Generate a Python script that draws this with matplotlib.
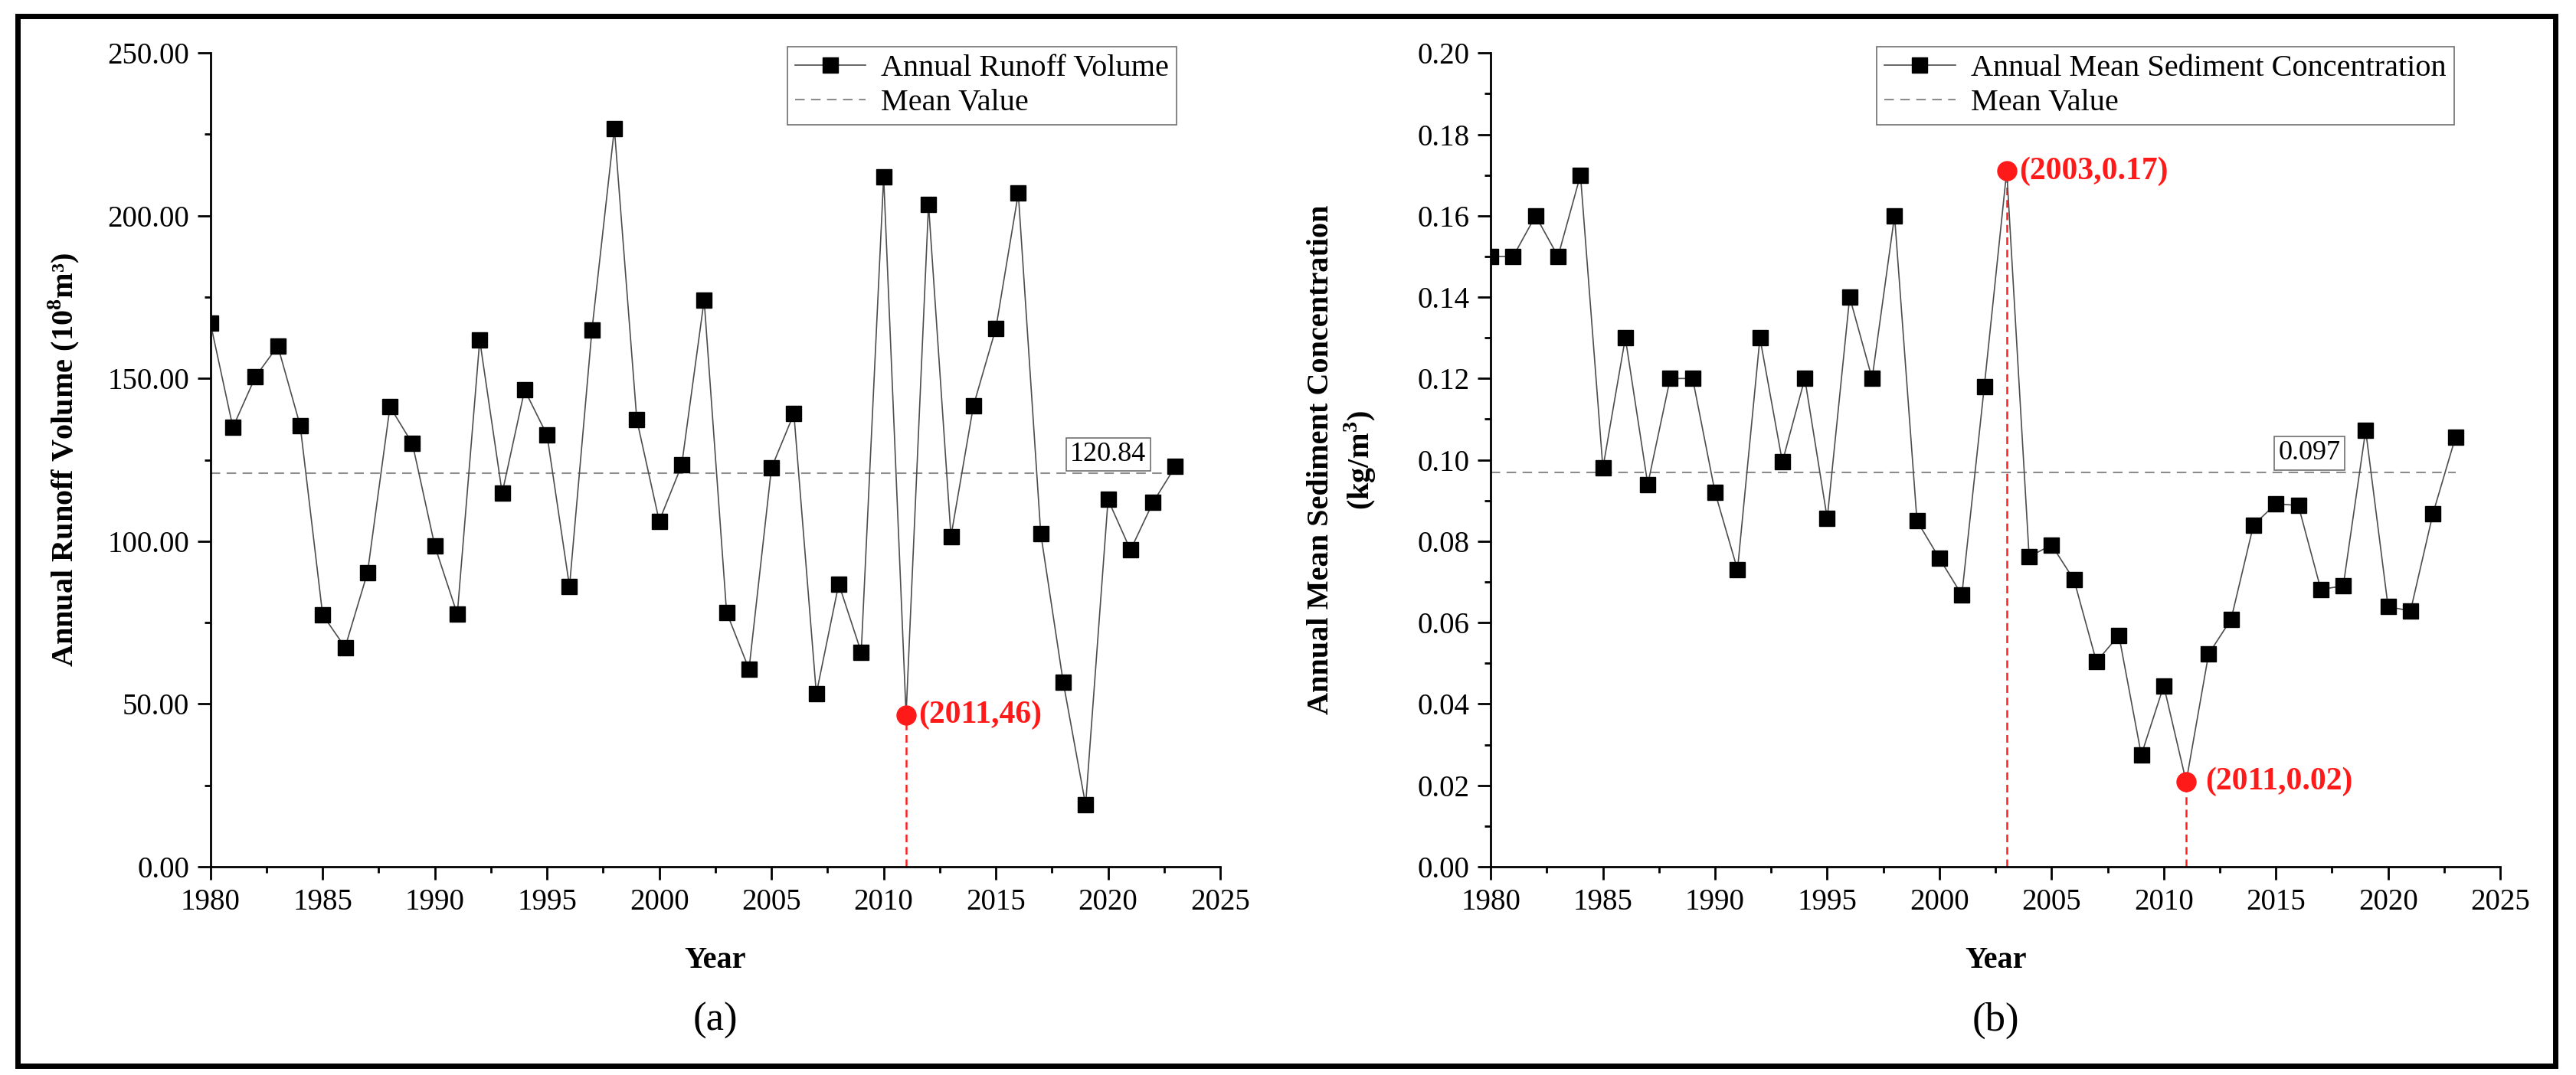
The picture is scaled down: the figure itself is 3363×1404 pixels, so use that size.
import matplotlib.pyplot as plt
from matplotlib.patches import Rectangle
from matplotlib.ticker import MultipleLocator, FormatStrFormatter

plt.rcParams['font.family'] = ['Liberation Serif', 'DejaVu Serif']
plt.rcParams['mathtext.fontset'] = 'custom'
plt.rcParams['mathtext.rm'] = 'Liberation Serif'
plt.rcParams['mathtext.bf'] = 'Liberation Serif:bold'

years = list(range(1980, 2024))
runoff = [167.0, 135.0, 150.5, 160.0, 135.5, 77.4, 67.4, 90.4, 141.3, 130.0,
          98.5, 77.6, 161.8, 114.8, 146.5, 132.6, 86.1, 164.9, 226.8, 137.3,
          106.2, 123.4, 174.1, 78.2, 60.7, 122.5, 139.2, 53.2, 86.9, 65.9,
          212.0, 46.6, 203.5, 101.5, 141.6, 165.4, 206.9, 102.4, 56.8, 19.0,
          112.8, 97.3, 111.9, 123.0]
sediment = [0.150, 0.150, 0.160, 0.150, 0.170, 0.098, 0.130, 0.094, 0.120, 0.120,
            0.092, 0.073, 0.130, 0.0995, 0.120, 0.0856, 0.140, 0.120, 0.160, 0.085,
            0.0758, 0.0668, 0.118, 0.171, 0.0762, 0.0791, 0.0705, 0.0504, 0.0569, 0.0275,
            0.0445, 0.0209, 0.0523, 0.0608, 0.0840, 0.0892, 0.0888, 0.0682, 0.0690, 0.1073,
            0.0639, 0.0629, 0.0868, 0.1055]
runoff_mean = 120.84
sediment_mean = 0.097
runoff_hl_years = [2011]
runoff_hl_text = ['(2011,46)']
sediment_hl_years = [2003, 2011]
sediment_hl_text = ['(2003,0.17)', '(2011,0.02)']

FS = 28

fig = plt.figure(figsize=(33.63, 14.04), dpi=100)
ax1 = fig.add_axes([0.0817, 0.1937, 0.392, 0.757])
ax2 = fig.add_axes([0.5787, 0.1937, 0.3919, 0.757])
# outer frame round the whole figure
fig.patches.append(Rectangle((0.0068, 0.0085), 0.9852, 0.9766, transform=fig.transFigure,
                             fill=False, lw=5, ec='black'))


def draw_panel(ax, vals, mean, hl_years, hl_text, series_label, ylabel, ymax, ystep,
               yfmt, mean_text, mean_x, legend_x, panel, ylabel_x, text_dx):
    skip = [years.index(y) for y in hl_years]
    keep = [i for i in range(len(years)) if i not in skip]
    ax.plot(years, vals, color='#4d4d4d', lw=1.2, marker='s', ms=15,
            mfc='black', mec='black', markevery=keep, label=series_label, zorder=3)
    ax.plot([years[0], years[-1]], [mean, mean], color='#8c8c8c', lw=1.5,
            dashes=(6, 4), label='Mean Value', zorder=2)
    for y, t, dx in zip(hl_years, hl_text, text_dx):
        v = vals[years.index(y)]
        ax.plot([y, y], [0, v], color='#ff2020', lw=1.8, dashes=(4, 2.5), zorder=2)
        ax.plot(y, v, 'o', color='#ff1a1a', ms=18, zorder=4)
        ax.annotate(t, (y, v), xytext=(dx, 0), textcoords='offset points',
                    color='#ff1a1a', fontsize=30, fontweight='bold', va='center', ha='left')
    ax.annotate(mean_text, (mean_x, mean), xytext=(0, 6), textcoords='offset points',
                ha='center', va='bottom', fontsize=26,
                bbox=dict(boxstyle='square,pad=0.15', fc='white', ec='#707070', lw=1.2))

    ax.set_xlim(1980, 2025)
    ax.set_ylim(0, ymax)
    ax.xaxis.set_major_locator(MultipleLocator(5))
    ax.xaxis.set_minor_locator(MultipleLocator(2.5))
    ax.yaxis.set_major_locator(MultipleLocator(ystep))
    ax.yaxis.set_minor_locator(MultipleLocator(ystep / 2))
    ax.yaxis.set_major_formatter(FormatStrFormatter(yfmt))
    for s in ['top', 'right']:
        ax.spines[s].set_visible(False)
    for s in ['left', 'bottom']:
        ax.spines[s].set_linewidth(2)
    ax.tick_params(which='major', direction='out', length=12, width=2, labelsize=FS, pad=8)
    ax.tick_params(which='minor', direction='out', length=6, width=2)

    ax.set_xlabel('Year', fontsize=FS + 1, fontweight='bold', va='center')
    ax.xaxis.set_label_coords(0.5, -0.115)
    ax.set_ylabel(ylabel, fontsize=FS + 1, fontweight='bold', va='center', linespacing=1.25)
    ax.yaxis.set_label_coords(ylabel_x, 0.5)
    ax.text(0.5, -0.189, panel, transform=ax.transAxes, fontsize=38, ha='center', va='center')

    leg = ax.legend(loc='upper right', bbox_to_anchor=(legend_x, 1.008), fontsize=FS + 1,
                    numpoints=1, handlelength=2.3, handletextpad=0.5, borderpad=0.25,
                    labelspacing=0.2, borderaxespad=0, fancybox=False, framealpha=1)
    leg.get_frame().set_edgecolor('#707070')
    leg.get_frame().set_linewidth(1.2)


draw_panel(ax1, runoff, runoff_mean, runoff_hl_years, runoff_hl_text,
           'Annual Runoff Volume', r'Annual Runoff Volume (10$^{\mathbf{8}}$m³)',
           250, 50, '%.2f', '120.84', 2020, 0.957, '(a)', -0.145, [12])
draw_panel(ax2, sediment, sediment_mean, sediment_hl_years, sediment_hl_text,
           'Annual Mean Sediment Concentration',
           'Annual Mean Sediment Concentration\n' + r'(kg/m$^{\mathbf{3}}$)',
           0.20, 0.02, '%.2f', '0.097', 2016.5, 0.954, '(b)', -0.147, [12, 18])

fig.savefig('out.png', dpi=100)
